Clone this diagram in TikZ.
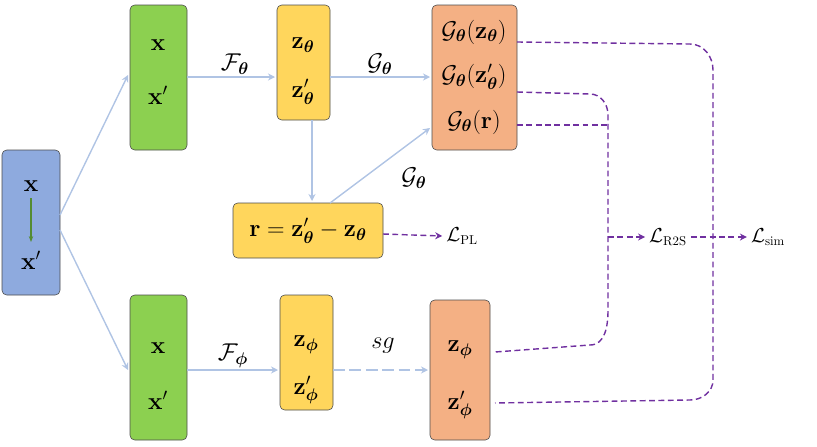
\documentclass[tikz,border=0pt]{standalone}
\usepackage{amsmath,bm}
\usetikzlibrary{arrows.meta}
\definecolor{cblue}{RGB}{142,170,222}
\definecolor{cgreen}{RGB}{140,208,80}
\definecolor{cyel}{RGB}{255,214,92}
\definecolor{corg}{RGB}{244,176,132}
\definecolor{carr}{RGB}{176,196,228}
\definecolor{cpur}{RGB}{112,48,160}
\definecolor{cdg}{RGB}{84,140,50}
\begin{document}
\begin{tikzpicture}[x=0.03cm,y=-0.03cm,
  box/.style={draw=black!70,rounded corners=4pt,line width=0.5pt},
  la/.style={draw=carr,line width=1.2pt,-{Stealth[length=6pt,width=6pt]}},
  pd/.style={draw=cpur,line width=1.2pt,dash pattern=on 5pt off 3pt},
  pa/.style={pd,-{Stealth[length=6pt,width=6pt]}},
  t/.style={font=\fontsize{21}{25}\selectfont,inner sep=0pt},
  ls/.style={font=\fontsize{16}{19}\selectfont}]
\useasboundingbox (0,0) rectangle (817,446);
% boxes
\draw[box,fill=cblue] (2,150) rectangle (60,295);
\node[t] (sx) at (31,186) {$\mathbf{x}$};
\node[t] (sxp) at (31,260) {$\mathbf{x}'$};
\draw[-{Stealth[length=5pt]},draw=cdg,line width=1.2pt] (31,198) -- (31,242);
\draw[box,fill=cgreen] (130,5) rectangle (187,150);
\node[t] at (158,45) {$\mathbf{x}$};
\node[t] at (158,95) {$\mathbf{x}'$};
\draw[box,fill=cyel] (277,5) rectangle (330,120);
\node[t] at (303,45) {$\mathbf{z}_{\bm\theta}$};
\node[t] at (303,92) {$\mathbf{z}'_{\bm\theta}$};
\draw[box,fill=corg] (432,5) rectangle (517,150);
\node[t] at (474,32) {$\mathcal{G}_{\bm\theta}(\mathbf{z}_{\bm\theta})$};
\node[t] at (474,77) {$\mathcal{G}_{\bm\theta}(\mathbf{z}'_{\bm\theta})$};
\node[t] at (474,122) {$\mathcal{G}_{\bm\theta}(\mathbf{r})$};
\draw[box,fill=cyel] (233,203) rectangle (383,258);
\node[t] at (308,231) {$\mathbf{r}=\mathbf{z}'_{\bm\theta}-\mathbf{z}_{\bm\theta}$};
\draw[box,fill=cgreen] (130,295) rectangle (187,440);
\node[t] at (158,348) {$\mathbf{x}$};
\node[t] at (158,400) {$\mathbf{x}'$};
\draw[box,fill=cyel] (280,295) rectangle (333,410);
\node[t] at (306,345) {$\mathbf{z}_{\bm\phi}$};
\node[t] at (306,390) {$\mathbf{z}'_{\bm\phi}$};
\draw[box,fill=corg] (430,300) rectangle (490,440);
\node[t] at (460,350) {$\mathbf{z}_{\bm\phi}$};
\node[t] at (460,405) {$\mathbf{z}'_{\bm\phi}$};
% arrows
\draw[la] (60,215) -- (128,75);
\draw[la] (60,230) -- (128,370);
\draw[la] (187,77) -- (275,77);
\draw[la] (187,370) -- (278,370);
\draw[la] (330,77) -- (430,77);
\draw[la] (312,120) -- (312,201);
\draw[la] (330,203) -- (430,128);
\draw[draw=carr,line width=1.2pt,dash pattern=on 10pt off 4pt,-{Stealth[length=6pt,width=6pt]}] (333,370) -- (428,370);
\node[t] at (235,64) {$\mathcal{F}_{\bm\theta}$};
\node[t] at (380,64) {$\mathcal{G}_{\bm\theta}$};
\node[t] at (414,178) {$\mathcal{G}_{\bm\theta}$};
\node[t] at (383,346) {$sg$};
\node[t] at (233,356) {$\mathcal{F}_{\bm\phi}$};
% losses
\node[ls] (lpl) at (462,236) {$\mathcal{L}_{\mathrm{PL}}$};
\node[ls] (lr) at (668,237) {$\mathcal{L}_{\mathrm{R2S}}$};
\node[ls] (lsim) at (768,237) {$\mathcal{L}_{\mathrm{sim}}$};
\draw[pa] (383,234) -- (lpl.west);
\draw[pd] (517,42) -- (690,44) to[out=0,in=90] (713,70) -- (713,380) to[out=-90,in=0] (690,400) -- (495,403);
\draw[pd] (517,92) -- (590,94) to[out=0,in=90] (608,115) -- (608,310) to[out=-90,in=0] (590,345) -- (495,352);
\draw[pd] (517,125) -- (608,125);
\draw[pa] (608,237) -- (lr.west);
\draw[pa] (lr.east) -- (lsim.west);
\end{tikzpicture}
\end{document}
